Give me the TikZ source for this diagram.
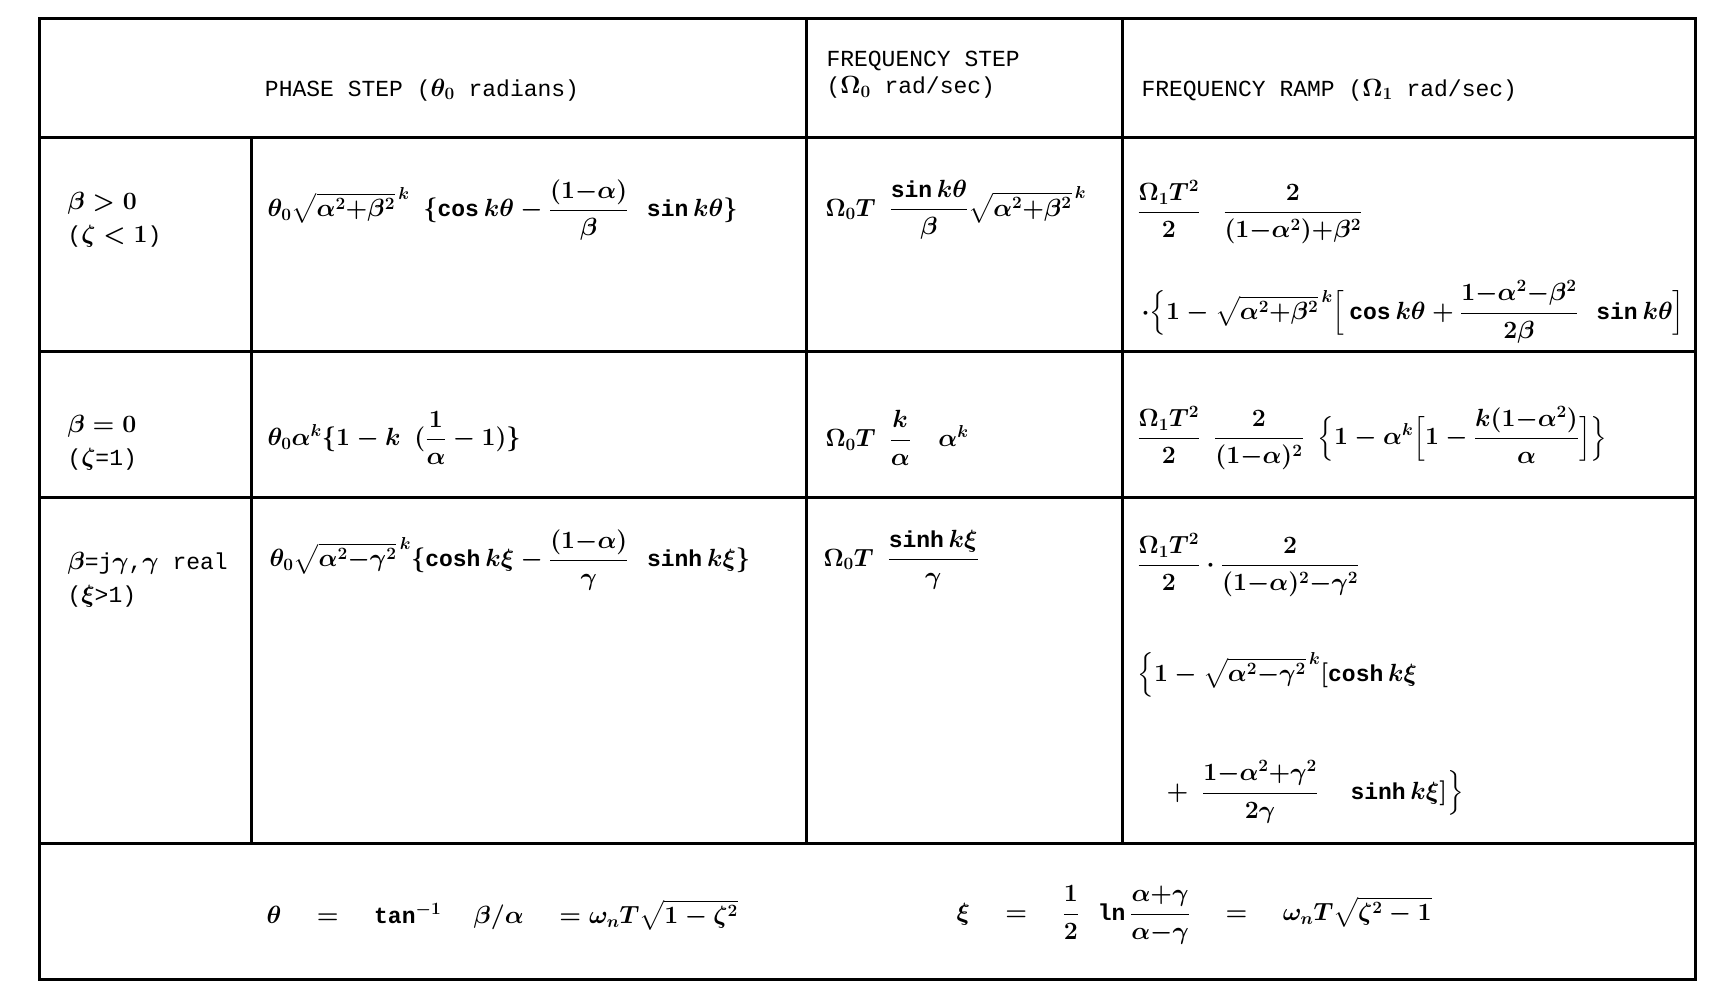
\documentclass[tikz,border=0pt]{standalone}
\usepackage{fontspec}
\setmainfont{Liberation Mono}
\usepackage{amsmath}
\begin{document}
\begin{tikzpicture}[x=1pt,y=-1pt,line width=3pt,
  txt/.style={anchor=west,inner sep=0pt,font=\fontsize{23}{27}\selectfont\boldmath,align=left},
  ctr/.style={inner sep=0pt,font=\fontsize{23}{27}\selectfont\boldmath}]
\useasboundingbox (0,0) rectangle (1729,995);
\fill[white] (0,0) rectangle (1729,995);
\draw (39,19) rectangle (1695,979);
\draw (39,138) -- (1695,138);
\draw (39,351) -- (1695,351);
\draw (39,497) -- (1695,497);
\draw (39,843) -- (1695,843);
\draw (251,138) -- (251,843);
\draw (806,19) -- (806,843);
\draw (1122,19) -- (1122,843);
% header
\node[ctr] (h1) at (422,90) {PHASE STEP ($\theta_0$ radians)};
\node[txt] (h2) at (825,75) {FREQUENCY STEP\\($\Omega_0$ rad/sec)};
\node[txt] (h3) at (1140,90) {FREQUENCY RAMP ($\Omega_1$ rad/sec)};
% row 1
\node[txt] (r1) at (66,220) {$\beta>0$\\[6pt]($\zeta<1$)};
\node[txt] (a1) at (266,210) {$\theta_0\sqrt{\alpha^2{+}\beta^2}^{\,k}\ \{\cos k\theta - \dfrac{(1{-}\alpha)}{\beta}\ \sin k\theta\}$};
\node[txt] (b1) at (824,210) {$\Omega_0T\ \dfrac{\sin k\theta}{\beta}\sqrt{\alpha^2{+}\beta^2}^{\,k}$};
\node[txt] (c1) at (1136,212) {$\dfrac{\Omega_1T^2}{2}\quad\dfrac{2}{(1{-}\alpha^2){+}\beta^2}$};
\node[txt] (d1) at (1140,312) {$\cdot\Big\{1-\sqrt{\alpha^2{+}\beta^2}^{\,k}\Big[\cos k\theta+\dfrac{1{-}\alpha^2{-}\beta^2}{2\beta}\ \sin k\theta\Big]$};
% row 2
\node[txt] (r2) at (66,443) {$\beta=0$\\[6pt]($\zeta$=1)};
\node[txt] (a2) at (266,438) {$\theta_0\alpha^k\{1-k\ (\dfrac{1}{\alpha}-1)\}$};
\node[txt] (b2) at (824,438) {$\Omega_0T\ \dfrac{k}{\alpha}\ \ \alpha^k$};
\node[txt] (c2) at (1136,438) {$\dfrac{\Omega_1T^2}{2}\ \dfrac{2}{(1{-}\alpha)^2}\ \Big\{1-\alpha^k\Big[1-\dfrac{k(1{-}\alpha^2)}{\alpha}\Big]\Big\}$};
% row 3
\node[txt] (r3) at (66,580) {$\beta$=j$\gamma$,$\gamma$ real\\[6pt]($\xi$>1)};
\node[txt] (a3) at (268,560) {$\theta_0\sqrt{\alpha^2{-}\gamma^2}^{\,k}\{\cosh k\xi-\dfrac{(1{-}\alpha)}{\gamma}\ \sinh k\xi\}$};
\node[txt] (b3) at (822,560) {$\Omega_0T\ \dfrac{\sinh k\xi}{\gamma}$};
\node[txt] (c3) at (1136,565) {$\dfrac{\Omega_1T^2}{2}\cdot\dfrac{2}{(1{-}\alpha)^2{-}\gamma^2}$};
\node[txt] (d3) at (1136,675) {$\Big\{1-\sqrt{\alpha^2{-}\gamma^2}^{\,k}[\cosh k\xi$};
\node[txt] (e3) at (1165,792) {$+\ \dfrac{1{-}\alpha^2{+}\gamma^2}{2\gamma}\ \ \sinh k\xi]\Big\}$};
% bottom
\node[txt] (f1) at (265,915) {$\theta\ \ =\ \ \tan^{-1}\ \ \beta/\alpha\ \ =\omega_nT\sqrt{1-\zeta^2}$};
\node[txt] (f2) at (955,915) {$\xi\ \ =\ \ \dfrac{1}{2}\ \ln\dfrac{\alpha{+}\gamma}{\alpha{-}\gamma}\ \ =\ \ \omega_nT\sqrt{\zeta^2-1}$};
\end{tikzpicture}
\end{document}
